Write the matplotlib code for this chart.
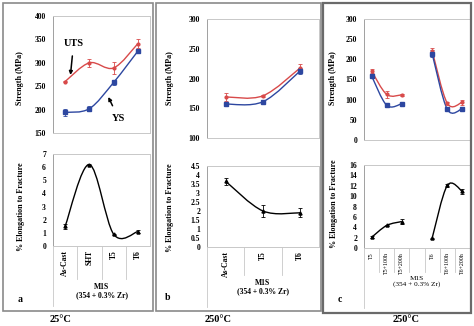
import numpy as np
import matplotlib
matplotlib.use("Agg")
import matplotlib.pyplot as plt
from matplotlib.path import Path
from matplotlib.patches import PathPatch, Rectangle
from matplotlib.ticker import FuncFormatter, MultipleLocator

plt.rcParams['font.family'] = ['Liberation Serif', 'DejaVu Serif']
plt.rcParams['font.weight'] = 'bold'

# ---- data ----
# panel a: 25 C
cats_a = ['As-Cast', 'SHT', 'T5', 'T6']
uts_a = [260, 300, 289, 341]
uts_a_err = [2, 8, 12, 10]
ys_a = [194, 202, 258, 325]
ys_a_err = [8, 5, 5, 3]
elong_a = [1.5, 6.2, 0.9, 1.1]
elong_a_err = [0.2, 0.05, 0.05, 0.1]

# panel b: 250 C
cats_b = ['As-Cast', 'T5', 'T6']
uts_b = [169, 171, 218]
uts_b_err = [6, 2, 6]
ys_b = [157, 161, 213]
ys_b_err = [4, 3, 5]
elong_b = [3.65, 2.0, 1.9]
elong_b_err = [0.2, 0.35, 0.25]

# panel c: 250 C, exposure (one blank category between the groups)
cats_c = ['T5', 'T5+100h', 'T5+200h', '', 'T6', 'T6+100h', 'T6+200h']
groups_c = [[0, 1, 2], [4, 5, 6]]
uts_c = [171, 113, 112, None, 221, 91, 94]
uts_c_err = [5, 8, 3, 0, 8, 4, 6]
ys_c = [159, 86, 90, None, 214, 76, 78]
ys_c_err = [5, 4, 2, 0, 8, 2, 3]
elong_c = [2.05, 4.35, 5.1, None, 1.9, 12.05, 10.9]
elong_c_err = [0.2, 0.15, 0.5, 0, 0.1, 0.3, 0.4]

RED = '#d84a4a'
BLUE = '#2d47a0'
FW, FH = 474, 326

fig = plt.figure(figsize=(4.74, 3.26), dpi=100)


def px_axes(x0, y0, x1, y1):
    return fig.add_axes([x0 / FW, 1 - y1 / FH, (x1 - x0) / FW, (y1 - y0) / FH])


def smooth(ax, x, y, color, lw=1.0):
    # Excel style smoothed line (Catmull-Rom drawn as cubic Bezier)
    pts = np.column_stack([x, y]).astype(float)
    n = len(pts)
    verts = [pts[0]]
    codes = [Path.MOVETO]
    for i in range(n - 1):
        p0 = pts[i - 1] if i > 0 else pts[i]
        p1, p2 = pts[i], pts[i + 1]
        p3 = pts[i + 2] if i + 2 < n else pts[i + 1]
        verts += [p1 + (p2 - p0) / 6, p2 - (p3 - p1) / 6, p2]
        codes += [Path.CURVE4] * 3
    ax.add_patch(PathPatch(Path(verts, codes), fill=False, ec=color, lw=lw))


def style(ax, lo, hi, step, fmt='%g'):
    ax.set_ylim(lo, hi)
    ax.yaxis.set_major_locator(MultipleLocator(step))
    ax.yaxis.set_major_formatter(FuncFormatter(lambda v, p: fmt % v))
    for s in ax.spines.values():
        s.set_color('#c8c8c8')
        s.set_linewidth(0.7)
    ax.spines['left'].set_color('#a0a0a0')
    ax.tick_params(axis='y', length=0, pad=5, labelsize=5.5)
    ax.tick_params(axis='x', length=0)


def series(ax, xs, ys, errs, color, marker, ms):
    ax.errorbar(xs, ys, yerr=errs, fmt=marker, color=color, ms=ms,
                elinewidth=0.6, capsize=1.5, capthick=0.6)
    smooth(ax, xs, ys, color)


def cat_table(ax, n, sep_len, label, weight, fsize):
    # vertical category separators and the long left line below the axis
    tr = ax.get_xaxis_transform()
    h = ax.get_window_extent().height
    for k in range(1, n):
        ax.plot([k - 0.5, k - 0.5], [0, -sep_len / h], transform=tr,
                color='#c8c8c8', lw=0.6, clip_on=False)
    ax.plot([-0.5, -0.5], [0, -60 / h], transform=tr,
            color='#c8c8c8', lw=0.6, clip_on=False)
    ax.text((n - 1) / 2, -(sep_len + 4) / h, label, transform=tr,
            ha='center', va='top', fontsize=fsize, weight=weight,
            linespacing=1.1)


group_lbl = 'M1S\n(354 + 0.3% Zr)'

# ---------- panel a ----------
ax = px_axes(53, 16, 150, 133)
xa = np.arange(len(cats_a))
series(ax, xa, uts_a, uts_a_err, RED, 'o', 2)
series(ax, xa, ys_a, ys_a_err, BLUE, 's', 2.3)
ax.set_xlim(-0.5, len(cats_a) - 0.5)
ax.set_xticks([])
style(ax, 150, 400, 50)
ax.annotate('UTS', xy=(0.22, 274), xytext=(0.35, 342), fontsize=7.5,
            ha='center', va='center',
            arrowprops=dict(arrowstyle='-|>', color='black', lw=1.1,
                            mutation_scale=5, shrinkA=4, shrinkB=0))
ax.annotate('YS', xy=(1.78, 227), xytext=(2.2, 182), fontsize=7.5,
            ha='center', va='center',
            arrowprops=dict(arrowstyle='-|>', color='black', lw=1.1,
                            mutation_scale=5, shrinkA=4, shrinkB=0))

ax = px_axes(53, 154, 150, 246)
ax.errorbar(xa, elong_a, yerr=elong_a_err, fmt='^', color='black', ms=2.2,
            elinewidth=0.6, capsize=1.5, capthick=0.6)
smooth(ax, xa, elong_a, 'black')
ax.set_xlim(-0.5, len(cats_a) - 0.5)
ax.set_xticks(xa)
ax.set_xticklabels(cats_a, rotation=90, fontsize=5.5)
ax.tick_params(axis='x', pad=3)
style(ax, 0, 7, 1)
cat_table(ax, len(cats_a), 33, group_lbl, 'bold', 5.5)

# ---------- panel b ----------
ax = px_axes(207, 19, 319, 138)
xb = np.arange(len(cats_b))
series(ax, xb, uts_b, uts_b_err, RED, 'o', 2)
series(ax, xb, ys_b, ys_b_err, BLUE, 's', 2.3)
ax.set_xlim(-0.5, len(cats_b) - 0.5)
ax.set_xticks([])
style(ax, 100, 300, 50)

ax = px_axes(207, 166, 319, 247)
ax.errorbar(xb, elong_b, yerr=elong_b_err, fmt='^', color='black', ms=2.2,
            elinewidth=0.6, capsize=1.5, capthick=0.6)
smooth(ax, xb, elong_b, 'black')
ax.set_xlim(-0.5, len(cats_b) - 0.5)
ax.set_xticks(xb)
ax.set_xticklabels(cats_b, rotation=90, fontsize=5.5)
ax.tick_params(axis='x', pad=3)
style(ax, 0, 4.5, 0.5)
cat_table(ax, len(cats_b), 28, group_lbl, 'bold', 5.5)

# ---------- panel c ----------
ax = px_axes(364, 19, 470, 140)
for g in groups_c:
    series(ax, g, [uts_c[i] for i in g], [uts_c_err[i] for i in g], RED, 'o', 2)
    series(ax, g, [ys_c[i] for i in g], [ys_c_err[i] for i in g], BLUE, 's', 2.3)
ax.set_xlim(-0.5, len(cats_c) - 0.5)
ax.set_xticks([])
style(ax, 0, 300, 50)

ax = px_axes(364, 165, 470, 248)
xc = np.arange(len(cats_c))
for g in groups_c:
    ax.errorbar(g, [elong_c[i] for i in g], yerr=[elong_c_err[i] for i in g],
                fmt='^', color='black', ms=2.2, elinewidth=0.6, capsize=1.5,
                capthick=0.6)
    smooth(ax, g, [elong_c[i] for i in g], 'black')
ax.set_xlim(-0.5, len(cats_c) - 0.5)
ax.set_xticks(xc)
ax.set_xticklabels(cats_c, rotation=90, fontsize=4.3, weight='normal')
ax.tick_params(axis='x', pad=3)
style(ax, 0, 16, 2)
cat_table(ax, len(cats_c), 24, group_lbl, 'normal', 5.2)

# ---------- y labels, panel letters, temperatures, frames ----------
for x in (20, 170, 333):
    fig.text(x / FW, 1 - 78 / FH, 'Strength (MPa)', rotation=90,
             ha='center', va='center', fontsize=5.8)
for x, y in ((21, 207), (170, 208), (334, 204)):
    fig.text(x / FW, 1 - y / FH, '% Elongation to Fracture', rotation=90,
             ha='center', va='center', fontsize=5.8)
for t, x, y in (('a', 20, 300), ('b', 168, 297), ('c', 340, 299)):
    fig.text(x / FW, 1 - y / FH, t, ha='center', va='center', fontsize=7)
for t, x in (('25°C', 61), ('250°C', 218), ('250°C', 406)):
    fig.text(x / FW, 1 - 319 / FH, t, ha='center', va='center', fontsize=7.5)

for x0, y0, x1, y1, c, lw in ((3, 3, 153, 311, '#8a8a8a', 1.2),
                              (156, 3, 321, 311, '#8a8a8a', 1.2),
                              (323, 3, 471, 313, '#6a6a6a', 1.6)):
    fig.add_artist(Rectangle((x0 / FW, 1 - y1 / FH), (x1 - x0) / FW,
                             (y1 - y0) / FH, transform=fig.transFigure,
                             fill=False, ec=c, lw=lw))

fig.savefig('out.png', dpi=100)
